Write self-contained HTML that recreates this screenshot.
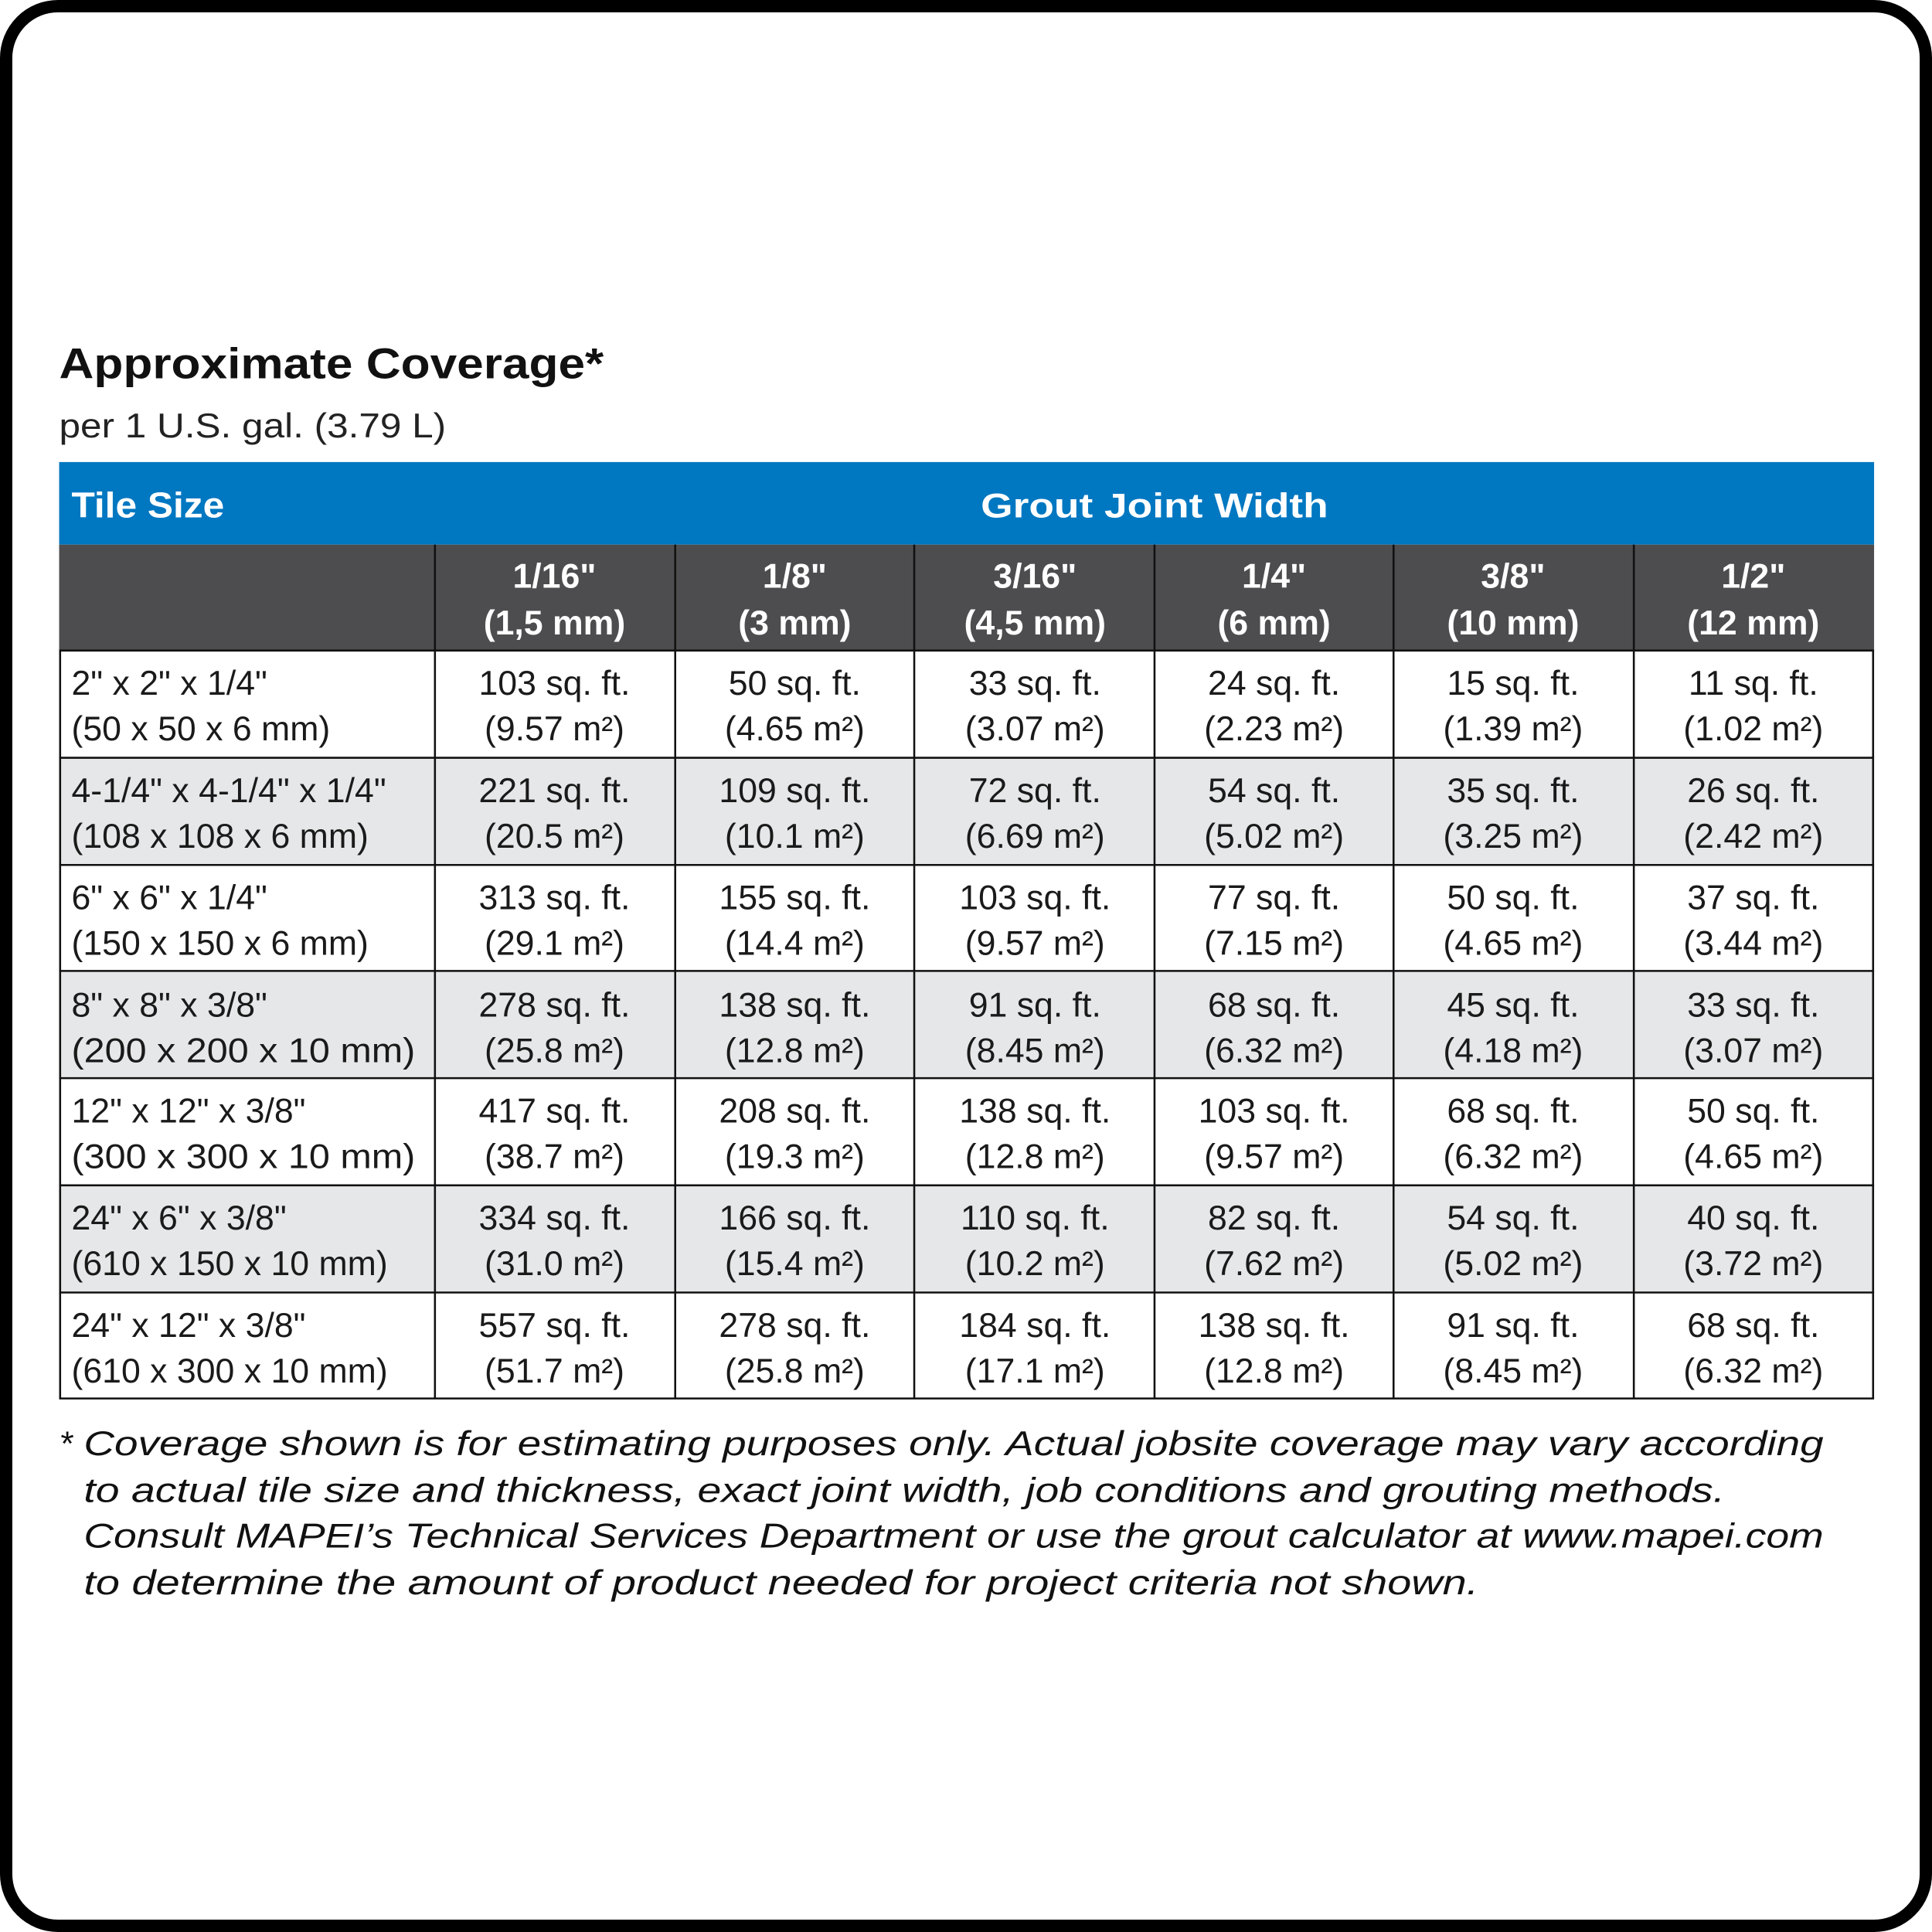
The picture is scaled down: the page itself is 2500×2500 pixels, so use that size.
<!DOCTYPE html>
<html><head><meta charset="utf-8"><style>
html,body{margin:0;padding:0;background:#fff;}
svg{display:block;}
text{font-family:"Liberation Sans",sans-serif;}
</style></head><body>
<svg width="2500" height="2500" viewBox="0 0 1568 1568" xmlns="http://www.w3.org/2000/svg">
<rect x="0" y="0" width="1568" height="1568" fill="#fff"/>
<rect x="5" y="5" width="1558" height="1558" rx="42" ry="42" fill="none" stroke="#000" stroke-width="10"/>
<text x="48" y="307" font-size="35" font-weight="bold" fill="#111" textLength="442" lengthAdjust="spacingAndGlyphs">Approximate Coverage*</text>
<text x="48" y="355" font-size="28" fill="#222" textLength="314" lengthAdjust="spacingAndGlyphs">per 1 U.S. gal. (3.79 L)</text>
<rect x="48" y="375" width="1473" height="67" fill="#0077c1"/>
<text x="58" y="420" font-size="29" font-weight="bold" fill="#fff" textLength="124" lengthAdjust="spacingAndGlyphs">Tile Size</text>
<text x="937" y="420" font-size="28" font-weight="bold" fill="#fff" text-anchor="middle" textLength="282" lengthAdjust="spacingAndGlyphs">Grout Joint Width</text>
<rect x="48" y="442" width="1473" height="86" fill="#4d4d4f"/>
<g fill="#e6e7e8">
<rect x="48" y="615" width="1473" height="87"/>
<rect x="48" y="788" width="1473" height="87"/>
<rect x="48" y="962" width="1473" height="87"/>
</g>
<g stroke="#111" stroke-width="1.6" fill="none">
<line x1="48" y1="528" x2="1521" y2="528"/>
<line x1="48" y1="615" x2="1521" y2="615"/>
<line x1="48" y1="702" x2="1521" y2="702"/>
<line x1="48" y1="788" x2="1521" y2="788"/>
<line x1="48" y1="875" x2="1521" y2="875"/>
<line x1="48" y1="962" x2="1521" y2="962"/>
<line x1="48" y1="1049" x2="1521" y2="1049"/>
<line x1="48" y1="1135" x2="1521" y2="1135"/>
<line x1="48.8" y1="528" x2="48.8" y2="1135"/>
<line x1="1520.2" y1="528" x2="1520.2" y2="1135"/>
<line x1="353" y1="442" x2="353" y2="1135"/>
<line x1="548" y1="442" x2="548" y2="1135"/>
<line x1="742" y1="442" x2="742" y2="1135"/>
<line x1="937" y1="442" x2="937" y2="1135"/>
<line x1="1131" y1="442" x2="1131" y2="1135"/>
<line x1="1326" y1="442" x2="1326" y2="1135"/>
</g>
<g font-size="28" font-weight="bold" fill="#fff" text-anchor="middle">
<text x="450" y="477">1/16"</text><text x="450" y="515">(1,5 mm)</text>
<text x="645" y="477">1/8"</text><text x="645" y="515">(3 mm)</text>
<text x="840" y="477">3/16"</text><text x="840" y="515">(4,5 mm)</text>
<text x="1034" y="477">1/4"</text><text x="1034" y="515">(6 mm)</text>
<text x="1228" y="477">3/8"</text><text x="1228" y="515">(10 mm)</text>
<text x="1423" y="477">1/2"</text><text x="1423" y="515">(12 mm)</text>
</g>
<g font-size="28" fill="#1a1a1a">
<text x="58" y="564">2" x 2" x 1/4"</text><text x="58" y="601">(50 x 50 x 6 mm)</text>
<text x="58" y="651">4-1/4" x 4-1/4" x 1/4"</text><text x="58" y="688">(108 x 108 x 6 mm)</text>
<text x="58" y="738">6" x 6" x 1/4"</text><text x="58" y="775">(150 x 150 x 6 mm)</text>
<text x="58" y="825">8" x 8" x 3/8"</text><text x="58" y="862" textLength="279" lengthAdjust="spacingAndGlyphs">(200 x 200 x 10 mm)</text>
<text x="58" y="911">12" x 12" x 3/8"</text><text x="58" y="948" textLength="279" lengthAdjust="spacingAndGlyphs">(300 x 300 x 10 mm)</text>
<text x="58" y="998">24" x 6" x 3/8"</text><text x="58" y="1035">(610 x 150 x 10 mm)</text>
<text x="58" y="1085">24" x 12" x 3/8"</text><text x="58" y="1122">(610 x 300 x 10 mm)</text>
</g>
<g font-size="28" fill="#1a1a1a" text-anchor="middle">
<text x="450" y="564">103 sq. ft.</text><text x="450" y="601">(9.57 m²)</text>
<text x="645" y="564">50 sq. ft.</text><text x="645" y="601">(4.65 m²)</text>
<text x="840" y="564">33 sq. ft.</text><text x="840" y="601">(3.07 m²)</text>
<text x="1034" y="564">24 sq. ft.</text><text x="1034" y="601">(2.23 m²)</text>
<text x="1228" y="564">15 sq. ft.</text><text x="1228" y="601">(1.39 m²)</text>
<text x="1423" y="564">11 sq. ft.</text><text x="1423" y="601">(1.02 m²)</text>

<text x="450" y="651">221 sq. ft.</text><text x="450" y="688">(20.5 m²)</text>
<text x="645" y="651">109 sq. ft.</text><text x="645" y="688">(10.1 m²)</text>
<text x="840" y="651">72 sq. ft.</text><text x="840" y="688">(6.69 m²)</text>
<text x="1034" y="651">54 sq. ft.</text><text x="1034" y="688">(5.02 m²)</text>
<text x="1228" y="651">35 sq. ft.</text><text x="1228" y="688">(3.25 m²)</text>
<text x="1423" y="651">26 sq. ft.</text><text x="1423" y="688">(2.42 m²)</text>

<text x="450" y="738">313 sq. ft.</text><text x="450" y="775">(29.1 m²)</text>
<text x="645" y="738">155 sq. ft.</text><text x="645" y="775">(14.4 m²)</text>
<text x="840" y="738">103 sq. ft.</text><text x="840" y="775">(9.57 m²)</text>
<text x="1034" y="738">77 sq. ft.</text><text x="1034" y="775">(7.15 m²)</text>
<text x="1228" y="738">50 sq. ft.</text><text x="1228" y="775">(4.65 m²)</text>
<text x="1423" y="738">37 sq. ft.</text><text x="1423" y="775">(3.44 m²)</text>

<text x="450" y="825">278 sq. ft.</text><text x="450" y="862">(25.8 m²)</text>
<text x="645" y="825">138 sq. ft.</text><text x="645" y="862">(12.8 m²)</text>
<text x="840" y="825">91 sq. ft.</text><text x="840" y="862">(8.45 m²)</text>
<text x="1034" y="825">68 sq. ft.</text><text x="1034" y="862">(6.32 m²)</text>
<text x="1228" y="825">45 sq. ft.</text><text x="1228" y="862">(4.18 m²)</text>
<text x="1423" y="825">33 sq. ft.</text><text x="1423" y="862">(3.07 m²)</text>

<text x="450" y="911">417 sq. ft.</text><text x="450" y="948">(38.7 m²)</text>
<text x="645" y="911">208 sq. ft.</text><text x="645" y="948">(19.3 m²)</text>
<text x="840" y="911">138 sq. ft.</text><text x="840" y="948">(12.8 m²)</text>
<text x="1034" y="911">103 sq. ft.</text><text x="1034" y="948">(9.57 m²)</text>
<text x="1228" y="911">68 sq. ft.</text><text x="1228" y="948">(6.32 m²)</text>
<text x="1423" y="911">50 sq. ft.</text><text x="1423" y="948">(4.65 m²)</text>

<text x="450" y="998">334 sq. ft.</text><text x="450" y="1035">(31.0 m²)</text>
<text x="645" y="998">166 sq. ft.</text><text x="645" y="1035">(15.4 m²)</text>
<text x="840" y="998">110 sq. ft.</text><text x="840" y="1035">(10.2 m²)</text>
<text x="1034" y="998">82 sq. ft.</text><text x="1034" y="1035">(7.62 m²)</text>
<text x="1228" y="998">54 sq. ft.</text><text x="1228" y="1035">(5.02 m²)</text>
<text x="1423" y="998">40 sq. ft.</text><text x="1423" y="1035">(3.72 m²)</text>

<text x="450" y="1085">557 sq. ft.</text><text x="450" y="1122">(51.7 m²)</text>
<text x="645" y="1085">278 sq. ft.</text><text x="645" y="1122">(25.8 m²)</text>
<text x="840" y="1085">184 sq. ft.</text><text x="840" y="1122">(17.1 m²)</text>
<text x="1034" y="1085">138 sq. ft.</text><text x="1034" y="1122">(12.8 m²)</text>
<text x="1228" y="1085">91 sq. ft.</text><text x="1228" y="1122">(8.45 m²)</text>
<text x="1423" y="1085">68 sq. ft.</text><text x="1423" y="1122">(6.32 m²)</text>
</g>
<g font-size="28" font-style="italic" fill="#111">
<text x="48" y="1181">*</text>
<text x="68" y="1181" textLength="1412" lengthAdjust="spacingAndGlyphs">Coverage shown is for estimating purposes only. Actual jobsite coverage may vary according</text>
<text x="68" y="1219" textLength="1332" lengthAdjust="spacingAndGlyphs">to actual tile size and thickness, exact joint width, job conditions and grouting methods.</text>
<text x="68" y="1256" textLength="1412" lengthAdjust="spacingAndGlyphs">Consult MAPEI’s Technical Services Department or use the grout calculator at www.mapei.com</text>
<text x="68" y="1294" textLength="1132" lengthAdjust="spacingAndGlyphs">to determine the amount of product needed for project criteria not shown.</text>
</g>
</svg>
</body></html>
